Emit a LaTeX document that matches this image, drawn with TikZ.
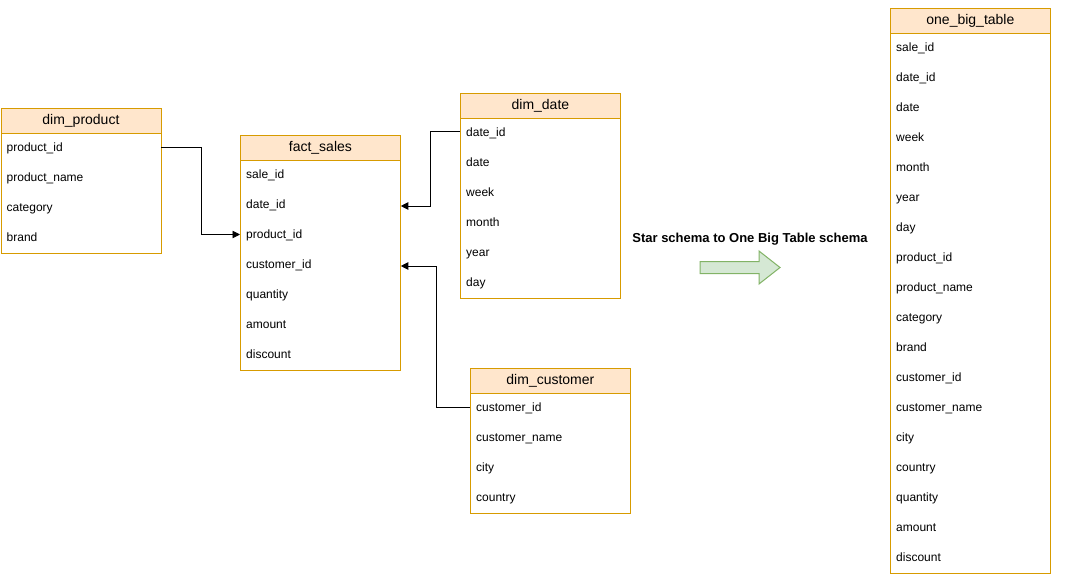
\documentclass[tikz,border=0pt]{standalone}
\usepackage{fontspec}
\setmainfont{Liberation Sans}
\usepackage{xcolor}
\usetikzlibrary{calc,positioning,arrows.meta}

\definecolor{hdrfill}{HTML}{FFE6CC}
\definecolor{hdrline}{HTML}{D79B00}
\definecolor{arrfill}{HTML}{D5E8D4}
\definecolor{arrline}{HTML}{82B366}

\tikzset{
	tblhead/.style={draw=hdrline, fill=hdrfill, line width=0.8pt, minimum width=160pt, minimum height=25pt, inner sep=0pt, text height=9pt, text depth=1pt, anchor=north west, font=\fontsize{14}{16}\selectfont},
	tblbody/.style={draw=hdrline, line width=0.8pt, minimum width=160pt, inner sep=0pt, anchor=north west},
	field/.style={anchor=west, inner sep=0pt, text height=8.5pt, text depth=3pt, font=\fontsize{12}{14}\selectfont},
	link/.style={-{Triangle[length=7.5pt,width=7.5pt]}, line width=0.9pt}
}

\begin{document}
\begin{tikzpicture}[x=1pt,y=-1pt]
		\useasboundingbox (0,0) rectangle (1092,588);
		
		% dim_product
		\node[tblhead] (prodhead) at (0.5,108) {dim\_product};
		\node[tblbody, minimum height=120pt] (prodbody) at (0.5,133) {};
		\foreach \t [count=\i] in {product\_id,product\_name,category,brand}
			\node[field] (prod\i) at (6.5,{133+15.5+(\i-1)*30}) {\t};
		
		% fact_sales
		\node[tblhead] (facthead) at (240,135) {fact\_sales};
		\node[tblbody, minimum height=210pt] (factbody) at (240,160) {};
		\foreach \t [count=\i] in {sale\_id,date\_id,product\_id,customer\_id,quantity,amount,discount}
			\node[field] (fact\i) at (246,{160+15.5+(\i-1)*30}) {\t};
		
		% dim_date
		\node[tblhead] (datehead) at (460,93) {dim\_date};
		\node[tblbody, minimum height=180pt] (datebody) at (460,118) {};
		\foreach \t [count=\i] in {date\_id,date,week,month,year,day}
			\node[field] (date\i) at (466,{118+15.5+(\i-1)*30}) {\t};
		
		% dim_customer
		\node[tblhead] (custhead) at (470,368) {dim\_customer};
		\node[tblbody, minimum height=120pt] (custbody) at (470,393) {};
		\foreach \t [count=\i] in {customer\_id,customer\_name,city,country}
			\node[field] (cust\i) at (476,{393+15.5+(\i-1)*30}) {\t};
		
		% one_big_table
		\node[tblhead] (obthead) at (890,8) {one\_big\_table};
		\node[tblbody, minimum height=540pt] (obtbody) at (890,33) {};
		\foreach \t [count=\i] in {sale\_id,date\_id,date,week,month,year,day,product\_id,product\_name,category,brand,customer\_id,customer\_name,city,country,quantity,amount,discount}
			\node[field] (obt\i) at (896,{33+15.5+(\i-1)*30}) {\t};
		
		% keys
		\draw[link] ($(prod1 -| prodbody.east)+(0,-1)$) -- ++(40,0) |- ($(fact3 -| factbody.west)+(0,-1)$);
		\draw[link] ($(date1 -| datebody.west)+(0,-2.5)$) -- ++(-30,0) |- ($(fact2 -| factbody.east)+(0,0.5)$);
		\draw[link] ($(cust1 -| custbody.west)+(0,-1.5)$) -- ++(-34,0) |- ($(fact4 -| factbody.east)+(0,0.5)$);
		
		% transformation
		\node[font=\bfseries\fontsize{13}{15}\selectfont] (caption) at (750,239) {Star schema to One Big Table schema};
		\draw[draw=arrline, fill=arrfill, line width=1pt] (700,261.5) -- (759,261.5) -- (759,251) -- (780,267.5) -- (759,284) -- (759,273.5) -- (700,273.5) -- cycle;
	\end{tikzpicture}
\end{document}
